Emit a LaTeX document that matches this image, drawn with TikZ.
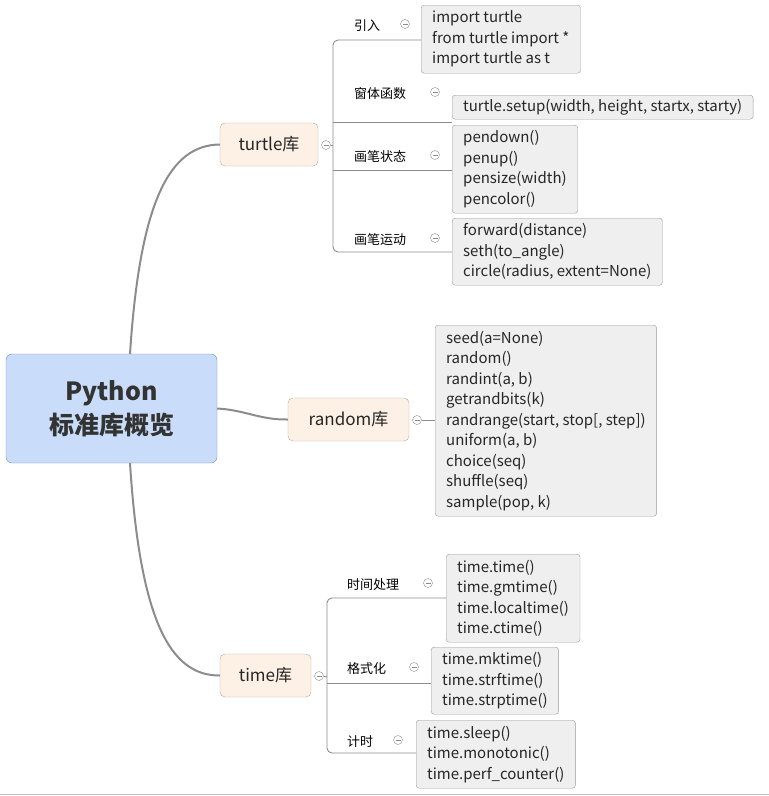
\documentclass[tikz,border=0pt]{standalone}
\usepackage{fontspec}
\setmainfont{Noto Sans CJK SC}
\usetikzlibrary{positioning}
\definecolor{rootfill}{HTML}{C9DDFA}
\definecolor{rootline}{HTML}{6F8FB8}
\definecolor{libfill}{HTML}{FDF1E6}
\definecolor{libline}{HTML}{B8A89A}
\definecolor{boxfill}{HTML}{EFEFEF}
\definecolor{boxline}{HTML}{9A9A9A}
\definecolor{wire}{HTML}{8C8C8C}
\tikzset{
  root/.style={draw=rootline, fill=rootfill, rounded corners=6pt, minimum width=211pt,
    minimum height=109pt, align=center, font=\fontsize{25}{34}\selectfont\bfseries, text=black!80},
  lib/.style={draw=libline, fill=libfill, rounded corners=5pt, minimum height=43pt,
    font=\fontsize{17}{20}\selectfont, text=black!85},
  item/.style={draw=boxline, fill=boxfill, rounded corners=3pt, anchor=north west, align=left,
    inner xsep=11pt, inner ysep=5pt, font=\fontsize{15}{20.5}\selectfont, text=black!85},
  topic/.style={anchor=south west, inner sep=2pt, font=\fontsize{13}{15}\selectfont},
  fold/.style={draw=wire, fill=white, circle, inner sep=0pt, minimum size=9pt,
    path picture={\draw[wire] ([xshift=-2.5pt]path picture bounding box.center) -- ([xshift=2.5pt]path picture bounding box.center);}},
  branch/.style={draw=wire, line width=2pt},
  twig/.style={draw=wire, line width=0.9pt, rounded corners=5pt}
}
\begin{document}
\begin{tikzpicture}[x=1pt, y=-1pt]
\useasboundingbox (0,0) rectangle (769,796);
% centre
\node[root] (py) at (111.5,408.5) {Python\\标准库概览};
% libraries
\node[lib, minimum width=98pt] (tur) at (269,144.5) {turtle库};
\node[lib, minimum width=121pt] (rnd) at (348.5,419.5) {random库};
\node[lib, minimum width=91pt] (tim) at (265.5,675.5) {time库};
\draw[branch] (130,354) .. controls (140,200) and (170,145) .. (tur.west);
\draw[branch] (py.east) .. controls (245,410) and (260,420) .. (rnd.west);
\draw[branch] (130,463) .. controls (140,620) and (170,676) .. (tim.west);
\node[fold] (ftur) at (326,145) {};
\node[fold] (frnd) at (417,420) {};
\node[fold] (ftim) at (319,676) {};
% turtle
\node[item, minimum height=68pt] (t1) at (421,5) {import turtle\\from turtle import *\\import turtle as t};
\node[item, minimum height=24pt, inner ysep=2pt] (t2) at (452,95) {turtle.setup(width, height, startx, starty)};
\node[item, minimum height=88pt] (t3) at (452,125) {pendown()\\penup()\\pensize(width)\\pencolor()};
\node[item, minimum height=67pt] (t4) at (452,218) {forward(distance)\\seth(to\_angle)\\circle(radius, extent=None)};
\coordinate (ta) at (333,40);
\coordinate (tb) at (333,122);
\coordinate (tc) at (333,170);
\coordinate (td) at (333,252);
\node[topic] (l1) at (352,34) {引入};
\node[topic] (l2) at (352,102) {窗体函数};
\node[topic] (l3) at (352,165) {画笔状态};
\node[topic] (l4) at (352,248) {画笔运动};
\node[fold] at (405,24) {};
\node[fold] at (435,92) {};
\node[fold] at (435,155) {};
\node[fold] at (435,238) {};
\draw[twig] (ftur.east) -- (333,145);
\draw[twig] (t1.west |- ta) -- (ta) -- (td) -- (t4.west |- td);
\draw[twig] (t2.west |- tb) -- (tb);
\draw[twig] (t3.west |- tc) -- (tc);
% random
\node[item, minimum height=191pt] (r1) at (435,325) {seed(a=None)\\random()\\randint(a, b)\\getrandbits(k)\\randrange(start, stop[, step])\\uniform(a, b)\\choice(seq)\\shuffle(seq)\\sample(pop, k)};
\draw[twig] (frnd.east) -- (r1.west |- frnd);
% time
\node[item, minimum height=88pt] (m1) at (446,554) {time.time()\\time.gmtime()\\time.localtime()\\time.ctime()};
\node[item, minimum height=67pt] (m2) at (431,647) {time.mktime()\\time.strftime()\\time.strptime()};
\node[item, minimum height=68pt] (m3) at (416,720) {time.sleep()\\time.monotonic()\\time.perf\_counter()};
\coordinate (ma) at (327,598);
\coordinate (mb) at (327,683);
\coordinate (mc) at (327,753);
\node[topic] (k1) at (345,593) {时间处理};
\node[topic] (k2) at (345,677) {格式化};
\node[topic] (k3) at (345,750) {计时};
\node[fold] at (428,583) {};
\node[fold] at (414,667) {};
\node[fold] at (398,740) {};
\draw[twig] (ftim.east) -- (327,676);
\draw[twig] (m1.west |- ma) -- (ma) -- (mc) -- (m3.west |- mc);
\draw[twig] (m2.west |- mb) -- (mb);
\draw[black!25] (0,794) -- (769,794);
\end{tikzpicture}
\end{document}
